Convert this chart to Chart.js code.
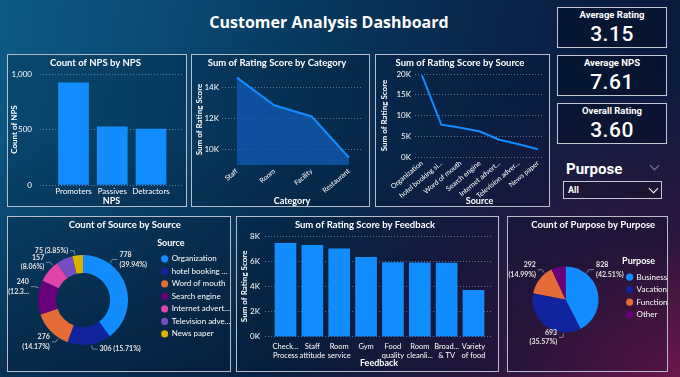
<!DOCTYPE html>
<html>
<head>
<meta charset="utf-8">
<script src="https://cdn.jsdelivr.net/npm/chart.js@4.4.1/dist/chart.umd.min.js"></script>
<style>
html, body { margin: 0; padding: 0; }
body {
  width: 680px; height: 377px; overflow: hidden; position: relative;
  font-family: Roboto, sans-serif; color: #fff;
  background:
    radial-gradient(ellipse 60% 80% at 100% 100%, rgba(125,24,78,0.85) 0%, rgba(90,20,68,0.45) 45%, rgba(60,15,60,0) 100%),
    linear-gradient(to bottom, rgba(8,18,45,0) 35%, rgba(8,18,45,0.55) 100%),
    linear-gradient(100deg, #0c5a86 0%, #0a4a74 22%, #07365b 45%, #0a2349 70%, #0b1839 100%);
}
.title { position: absolute; left: 329px; top: 11px; transform: translateX(-50%);
  font-family: 'Open Sans', sans-serif; font-weight: 700; font-size: 16px; white-space: nowrap; }
.panel { position: absolute; box-sizing: border-box; border: 1px solid #b7bcc9; background: rgba(2,12,35,0.22); }
.panel canvas { position: absolute; left: 0; top: 0; }
.card { position: absolute; left: 557px; width: 110px; height: 41px; box-sizing: border-box;
  border: 1.5px solid #c3c7d1; background: rgba(6,14,38,0.55); text-align: center; }
.card .lbl { position: absolute; left: 0; right: 0; top: 1px; font-size: 9.5px; font-weight: 700; line-height: 12px; }
.card .val { position: absolute; left: 0; right: 0; top: 13px; font-size: 21px; font-weight: 500; line-height: 26px; letter-spacing: 0.5px; }
.slicer { position: absolute; left: 566px; top: 160px; font-size: 15px; font-weight: 700; line-height: 18px; }
.chev { position: absolute; width: 6px; height: 6px; border-right: 1.5px solid; border-bottom: 1.5px solid; transform: rotate(45deg); }
.drop { position: absolute; left: 563px; top: 181px; width: 99px; height: 18px; box-sizing: border-box;
  border: 1px solid #c3c7d1; background: rgba(0,0,0,0.15); }
.drop span { position: absolute; left: 4px; top: 3px; font-size: 9px; font-weight: 700; line-height: 11px; }
</style>
</head>
<body>
<div class="title">Customer Analysis Dashboard</div>

<div class="panel" style="left:7px;top:54px;width:180px;height:153px"><canvas id="npsChart" width="178" height="151"></canvas></div>
<div class="panel" style="left:191px;top:54px;width:179px;height:153px"><canvas id="categoryChart" width="177" height="151"></canvas></div>
<div class="panel" style="left:375px;top:54px;width:175px;height:153px"><canvas id="sourceLine" width="173" height="151"></canvas></div>
<div class="panel" style="left:7px;top:216px;width:224px;height:156px"><canvas id="sourceDonut" width="222" height="154"></canvas></div>
<div class="panel" style="left:236px;top:216px;width:263px;height:156px"><canvas id="feedbackChart" width="261" height="154"></canvas></div>
<div class="panel" style="left:507px;top:216px;width:161px;height:156px"><canvas id="purposePie" width="159" height="154"></canvas></div>

<div class="card" style="top:7px"><div class="lbl">Average Rating</div><div class="val">3.15</div></div>
<div class="card" style="top:55px"><div class="lbl">Average NPS</div><div class="val">7.61</div></div>
<div class="card" style="top:103px"><div class="lbl">Overall Rating</div><div class="val">3.60</div></div>

<div class="slicer">Purpose</div>
<div class="chev" style="left:651px;top:162px;color:#7d8498"></div>
<div class="drop"><span>All</span><div class="chev" style="left:86px;top:3px;color:#fff"></div></div>

<script>
// data
const npsLabels = ['Promoters', 'Passives', 'Detractors'];
const npsCounts = [920, 524, 504];
const npsTicks = [0, 500, 1000];

const categoryLabels = ['Staff', 'Room', 'Facility', 'Restaurant'];
const categoryScores = [14660, 12860, 12130, 9450];
const categoryTicks = [10000, 12000, 14000];

const sourceTicks = ['Organization', 'hotel booking si...', 'Word of mouth', 'Search engine',
  'Internet advert...', 'Television adver...', 'News paper'];
const sourceScores = [19700, 7800, 7050, 6150, 4150, 3050, 1850];
const sourceScoreTicks = [0, 5000, 10000, 15000, 20000];

const sourceLegend = ['Organization', 'hotel booking ...', 'Word of mouth', 'Search engine',
  'Internet advert...', 'Television adve...', 'News paper'];
const sourceCounts = [778, 306, 276, 240, 157, 116, 75];
const sourceColors = ['#118DFF', '#12239E', '#E66C37', '#6B007B', '#E044A7', '#744EC2', '#D9B300'];

const feedbackTicks = [['Check...', 'Process'], ['Staff', 'attitude'], ['Room', 'service'], ['Gym'],
  ['Food', 'quality'], ['Room', 'cleanli...'], ['Broad...', '& TV'], ['Variety', 'of food']];
const feedbackScores = [7420, 7260, 6990, 6310, 5880, 5860, 5850, 3690];
const feedbackScoreTicks = [0, 2000, 4000, 6000, 8000];

const purposeLabels = ['Business', 'Vacation', 'Function', 'Other'];
const purposeCounts = [828, 693, 292, 135];
const purposeColors = ['#118DFF', '#12239E', '#E66C37', '#6B007B'];

const FONT = "Lato, Roboto, sans-serif";
Chart.defaults.font.family = FONT;
Chart.defaults.color = '#ffffff';
Chart.defaults.animation = false;
Chart.defaults.plugins.tooltip.enabled = false;

const gridLine = { color: 'rgba(200,210,230,0.45)', drawTicks: false };
const noGrid = { display: false, drawTicks: false };
const dotted = { display: false, dash: [1, 2] };
const kFmt = v => (v / 1000) + 'K';

function chartTitle(text) {
  return { display: true, text: text, color: '#fff', font: { size: 9.5, weight: 'bold' }, padding: { top: 2, bottom: 5.6 } };
}
function axisTitle(text, size, pad) {
  return { display: true, text: text, color: '#fff', font: { size: size, weight: 'bold' }, padding: pad };
}
function indexTicks(labels) {
  return s => { s.ticks = labels.map((_, i) => ({ value: i })); };
}
function valueTicks(values) {
  return s => { s.ticks = values.map(v => ({ value: v })); };
}
function sideLegend(title) {
  return {
    position: 'right',
    title: { display: true, text: title, position: 'start', color: '#fff', font: { size: 9, weight: 'bold' }, padding: { top: 0, bottom: 1 } },
    labels: { usePointStyle: true, pointStyle: 'circle', boxWidth: 6, boxHeight: 5, padding: 4.5, color: '#fff', font: { size: 8 } }
  };
}

// outside labels with short leader lines, like the Power BI pie labels.
// anchor = where along each slice the leader starts (0 = slice start, 1 = slice end)
function fitText(ctx, t, room) {
  if (ctx.measureText(t).width <= room) return t;
  while (t.length > 1 && ctx.measureText(t + '...').width > room) t = t.slice(0, -1);
  return t + '...';
}
const arcLabels = {
  id: 'arcLabels',
  afterDatasetsDraw(chart, args, opts) {
    const ctx = chart.ctx;
    const values = chart.data.datasets[0].data;
    const total = values.reduce((a, b) => a + b, 0);
    const skip = opts.skip || [];
    ctx.save();
    ctx.font = 'bold 7px ' + FONT;
    ctx.fillStyle = '#e4e4e4';
    ctx.strokeStyle = 'rgba(170,175,185,0.7)';
    ctx.lineWidth = 1;
    chart.getDatasetMeta(0).data.forEach((arc, i) => {
      if (skip.includes(i)) return;
      const p = arc.getProps(['x', 'y', 'startAngle', 'endAngle', 'outerRadius'], true);
      const f = opts.anchor ? opts.anchor[i] : 0.5;
      const a = p.startAngle + f * (p.endAngle - p.startAngle);
      const cos = Math.cos(a), sin = Math.sin(a);
      const right = cos >= 0;
      const x1 = p.x + cos * (p.outerRadius + 5), y1 = p.y + sin * (p.outerRadius + 5);
      const x2 = x1 + (right ? 5 : -4);
      ctx.beginPath();
      ctx.moveTo(p.x + cos * (p.outerRadius + 1), p.y + sin * (p.outerRadius + 1));
      ctx.lineTo(x1, y1);
      ctx.lineTo(x2, y1);
      ctx.stroke();
      const v = values[i];
      const pct = '(' + (v / total * 100).toFixed(2) + '%)';
      const tx = x2 + (right ? 2 : -2);
      const room = right ? chart.width - tx : tx;
      const one = v + ' ' + pct;
      const oneLine = Math.abs(sin) > 0.9 && (right || sin < 0) && ctx.measureText(one).width <= room;
      const lines = oneLine ? [one] : [String(v), pct];
      ctx.textAlign = right ? 'left' : 'right';
      ctx.textBaseline = 'middle';
      lines.forEach((t, k) => ctx.fillText(fitText(ctx, t, room), tx, y1 + (k - (lines.length - 1) / 2) * 9.5));
    });
    ctx.restore();
  }
};

// Count of NPS by NPS
new Chart(document.getElementById('npsChart'), {
  type: 'bar',
  data: { datasets: [{ data: npsCounts.map((v, i) => ({ x: i, y: v })), backgroundColor: '#118DFF', barThickness: 30 }] },
  options: {
    responsive: false,
    layout: { padding: { right: 3 } },
    plugins: { legend: { display: false }, title: chartTitle('Count of NPS by NPS') },
    scales: {
      x: {
        type: 'linear', offset: false, min: -0.865, max: 2.826,
        grid: noGrid, border: { display: false },
        afterBuildTicks: indexTicks(npsLabels),
        afterFit: s => { s.height = 21; },
        ticks: { autoSkip: false, maxRotation: 0, padding: 2, font: { size: 8 }, callback: v => npsLabels[v] },
        title: axisTitle('NPS', 9, 0)
      },
      y: {
        min: 0, max: 1000,
        afterBuildTicks: valueTicks(npsTicks),
        afterFit: s => { s.width = 32; },
        grid: gridLine, border: dotted,
        ticks: { padding: 8, font: { size: 8 }, callback: v => v.toLocaleString('en-US') },
        title: axisTitle('Count of NPS', 8, { top: 2, bottom: 0 })
      }
    }
  }
});

// Sum of Rating Score by Category
new Chart(document.getElementById('categoryChart'), {
  type: 'line',
  data: { datasets: [{
    data: categoryScores.map((v, i) => ({ x: i, y: v })),
    borderColor: '#118DFF', borderWidth: 2, pointRadius: 0,
    fill: 'start', backgroundColor: 'rgba(16,88,175,0.8)'
  }] },
  options: {
    responsive: false,
    layout: { padding: { right: 7 } },
    plugins: { legend: { display: false }, title: chartTitle('Sum of Rating Score by Category') },
    scales: {
      x: {
        type: 'linear', offset: false, min: -0.40, max: 3.35,
        grid: noGrid, border: { display: false },
        afterBuildTicks: indexTicks(categoryLabels),
        afterFit: s => { s.height = 41; },
        ticks: { autoSkip: false, padding: 2, minRotation: 40, maxRotation: 40, font: { size: 7 }, callback: v => categoryLabels[v] },
        title: axisTitle('Category', 9, 0)
      },
      y: {
        min: 8960, max: 14900,
        afterBuildTicks: valueTicks(categoryTicks),
        afterFit: s => { s.width = 30; },
        grid: gridLine, border: dotted,
        ticks: { padding: 3, font: { size: 8 }, callback: kFmt },
        title: axisTitle('Sum of Rating Score', 8, { top: 3, bottom: 0 })
      }
    }
  }
});

// Sum of Rating Score by Source
new Chart(document.getElementById('sourceLine'), {
  type: 'line',
  data: { datasets: [{
    data: sourceScores.map((v, i) => ({ x: i, y: v })),
    borderColor: '#118DFF', borderWidth: 2, pointRadius: 0, fill: false
  }] },
  options: {
    responsive: false,
    layout: { padding: { right: 5 } },
    plugins: { legend: { display: false }, title: chartTitle('Sum of Rating Score by Source') },
    scales: {
      x: {
        type: 'linear', offset: false, min: -0.36, max: 6.31,
        grid: noGrid, border: { display: false },
        afterBuildTicks: indexTicks(sourceTicks),
        afterFit: s => { s.height = 49; },
        ticks: { autoSkip: false, padding: 2, minRotation: 40, maxRotation: 40, font: { size: 7 }, callback: v => sourceTicks[v] },
        title: axisTitle('Source', 9, 0)
      },
      y: {
        min: 0, max: 20000,
        afterBuildTicks: valueTicks(sourceScoreTicks),
        afterFit: s => { s.width = 39; },
        grid: gridLine, border: dotted,
        ticks: { padding: 4, font: { size: 8 }, callback: kFmt },
        title: axisTitle('Sum of Rating Score', 8, { top: 4, bottom: 0 })
      }
    }
  }
});

// Count of Source by Source
new Chart(document.getElementById('sourceDonut'), {
  type: 'doughnut',
  data: { labels: sourceLegend, datasets: [{ data: sourceCounts, backgroundColor: sourceColors, borderWidth: 0 }] },
  options: {
    responsive: false,
    radius: 45, cutout: '60%',
    layout: { padding: { left: 1, right: -10.5, bottom: 7 } },
    plugins: {
      title: chartTitle('Count of Source by Source'),
      legend: sideLegend('Source'),
      arcLabels: { skip: [5], anchor: [0.25, 0.45, 0.25, 0.77, 0.8, 0.5, 0.25] }
    }
  },
  plugins: [arcLabels]
});

// Sum of Rating Score by Feedback
new Chart(document.getElementById('feedbackChart'), {
  type: 'bar',
  data: { datasets: [{ data: feedbackScores.map((v, i) => ({ x: i, y: v })), backgroundColor: '#118DFF', barThickness: 21 }] },
  options: {
    responsive: false,
    layout: { padding: { right: 5 } },
    plugins: { legend: { display: false }, title: chartTitle('Sum of Rating Score by Feedback') },
    scales: {
      x: {
        type: 'linear', offset: false, min: -0.763, max: 7.726,
        grid: noGrid, border: { display: false },
        afterBuildTicks: indexTicks(feedbackTicks),
        afterFit: s => { s.height = 34.3; },
        ticks: { autoSkip: false, maxRotation: 0, padding: 5.5, font: { size: 7.5, lineHeight: 1.2 }, callback: v => feedbackTicks[v] },
        title: axisTitle('Feedback', 9, { top: 0, bottom: 2.3 })
      },
      y: {
        min: 0, max: 8000,
        afterBuildTicks: valueTicks(feedbackScoreTicks),
        afterFit: s => { s.width = 28; },
        grid: gridLine, border: dotted,
        ticks: { padding: 5, font: { size: 8 }, callback: kFmt },
        title: axisTitle('Sum of Rating Score', 8, { top: 3, bottom: 0 })
      }
    }
  }
});

// Count of Purpose by Purpose
new Chart(document.getElementById('purposePie'), {
  type: 'pie',
  data: { labels: purposeLabels, datasets: [{ data: purposeCounts, backgroundColor: purposeColors, borderWidth: 0 }] },
  options: {
    responsive: false,
    radius: 33,
    layout: { padding: { left: 1, right: -10.5, bottom: 8 } },
    plugins: {
      title: chartTitle('Count of Purpose by Purpose'),
      legend: sideLegend('Purpose'),
      arcLabels: { skip: [3], anchor: [0.25, 0.24, 0.75, 0.5] }
    }
  },
  plugins: [arcLabels]
});
</script>
</body>
</html>
